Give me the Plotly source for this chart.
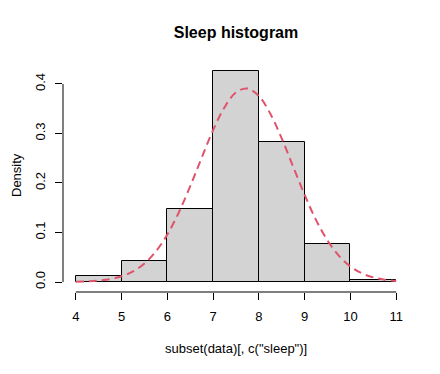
import plotly.graph_objects as go

# Histogram bins (left edges) and densities
bin_edges = [4, 5, 6, 7, 8, 9, 10, 11]
densities = [0.0127, 0.0424, 0.147, 0.4257, 0.282, 0.076, 0.004]

# Fitted normal density curve
curve_x = [4, 4.25, 4.5, 4.75, 5, 5.25, 5.5, 5.75, 6, 6.25, 6.5, 6.75, 7, 7.25,
           7.5, 7.75, 8, 8.25, 8.5, 8.75, 9, 9.25, 9.5, 9.75, 10, 10.25, 10.5,
           10.75, 11]
curve_y = [0.0005, 0.0012, 0.0028, 0.0058, 0.0115, 0.0213, 0.0374, 0.0618,
           0.096, 0.1405, 0.1935, 0.251, 0.307, 0.353, 0.383, 0.3908, 0.3756,
           0.340, 0.2898, 0.2326, 0.176, 0.125, 0.0838, 0.0529, 0.0315,
           0.0176, 0.0093, 0.0046, 0.0022]

x_ticks = [4, 5, 6, 7, 8, 9, 10, 11]
y_ticks = [0.0, 0.1, 0.2, 0.3, 0.4]
y_tick_labels = ["0.0", "0.1", "0.2", "0.3", "0.4"]

FONT = "Liberation Sans, Arial, Helvetica, sans-serif"
LAB = 13

lefts = bin_edges[:-1]
widths = [b - a for a, b in zip(bin_edges[:-1], bin_edges[1:])]

fig = go.Figure()
fig.add_trace(go.Bar(
    x=lefts, y=densities, width=widths, offset=0,
    marker=dict(color="#D3D3D3", line=dict(color="black", width=1)),
    hoverinfo="skip",
))
fig.add_trace(go.Scatter(
    x=curve_x, y=curve_y, mode="lines",
    line=dict(color="#DF536B", width=2, dash="8px,5px", shape="spline"),
    hoverinfo="skip",
))

# R-style axis lines spanning only the tick range
fig.add_shape(type="line", xref="x", yref="paper", x0=x_ticks[0], x1=x_ticks[-1],
              y0=0, y1=0, line=dict(color="black", width=1))
fig.add_shape(type="line", xref="paper", yref="y", x0=0, x1=0,
              y0=y_ticks[0], y1=y_ticks[-1], line=dict(color="black", width=1))

W, H = 432, 366
fig.update_layout(
    width=W, height=H,
    margin=dict(l=55, r=31, t=54, b=82),
    plot_bgcolor="white", paper_bgcolor="white",
    showlegend=False,
    bargap=0,
    font=dict(family=FONT, size=LAB, color="black"),
    title=dict(text="<b>Sleep histogram</b>", x=(55 + 401) / 2 / W, xanchor="center",
               y=1 - 24 / H, yanchor="middle", yref="container",
               font=dict(size=16, family=FONT, color="black")),
    xaxis=dict(range=[3.72, 11.28], tickvals=x_ticks, ticktext=[str(v) for v in x_ticks],
               ticks="outside", ticklen=7, tickwidth=1, tickcolor="black",
               showgrid=False, zeroline=False, showline=False,
               tickfont=dict(size=LAB, family=FONT), ticklabelstandoff=5),
    yaxis=dict(range=[-0.0202, 0.4444], tickvals=y_ticks, ticktext=y_tick_labels,
               ticks="outside", ticklen=7, tickwidth=1, tickcolor="black",
               tickangle=-90,
               showgrid=False, zeroline=False, showline=False,
               tickfont=dict(size=LAB, family=FONT), ticklabelstandoff=5),
    annotations=[
        dict(text='subset(data)[, c("sleep")]', xref="paper", yref="paper",
             x=0.5, y=(292 - 348) / 230, xanchor="center", yanchor="middle",
             showarrow=False, font=dict(size=LAB, family=FONT)),
        dict(text="Density", xref="paper", yref="paper",
             x=(8 - 55) / 346, y=(292 - 175) / 230, xanchor="center", yanchor="middle",
             textangle=-90, showarrow=False, font=dict(size=LAB, family=FONT)),
    ],
)

fig.write_html("out.html")
